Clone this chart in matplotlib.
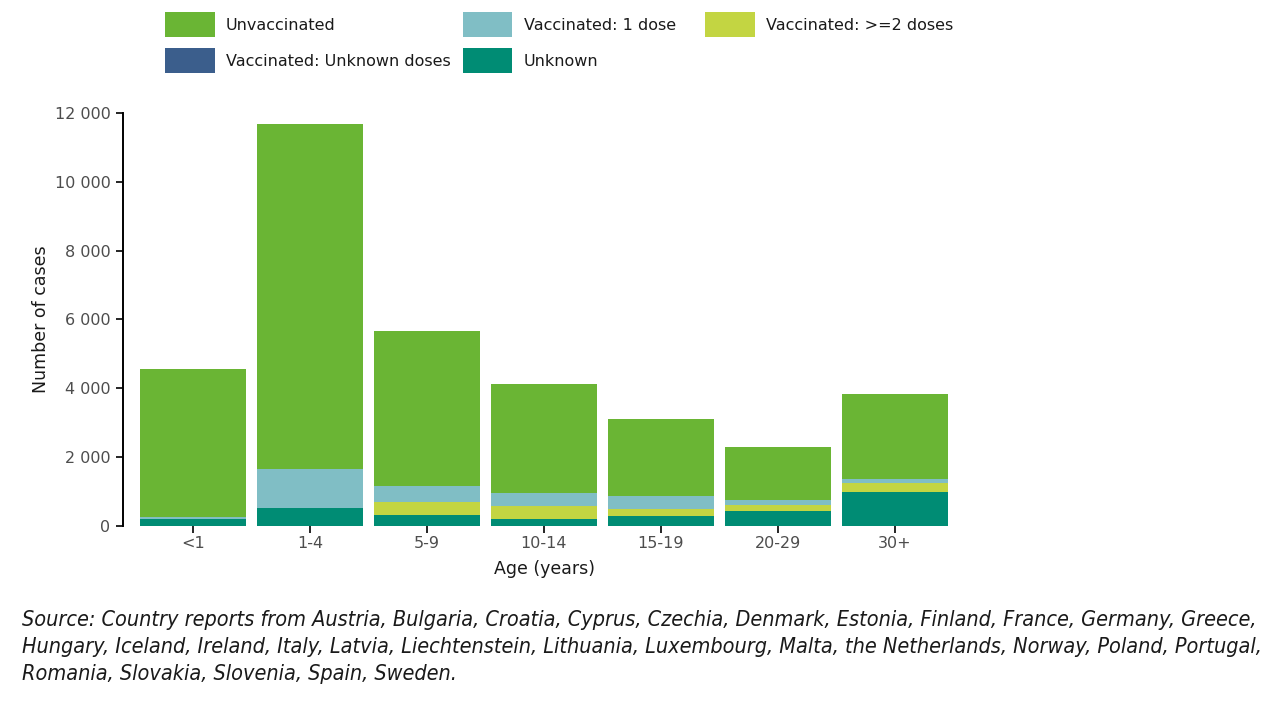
import numpy as np
import matplotlib
matplotlib.use("Agg")
import matplotlib.pyplot as plt
from matplotlib.ticker import FuncFormatter

# ---- DATA ----
age_groups = ["<1", "1-4", "5-9", "10-14", "15-19", "20-29", "30+"]
unknown = [195, 515, 311, 213, 291, 436, 997]
vacc_unknown_doses = [0, 0, 0, 0, 0, 0, 0]
vacc_2plus = [0, 0, 387, 368, 213, 165, 242]
vacc_1dose = [60, 1143, 465, 378, 378, 145, 136]
unvaccinated = [4310, 10030, 4506, 3169, 2228, 1551, 2462]

source_lines = [
    "Source: Country reports from Austria, Bulgaria, Croatia, Cyprus, Czechia, Denmark, Estonia, Finland, France, Germany, Greece,",
    "Hungary, Iceland, Ireland, Italy, Latvia, Liechtenstein, Lithuania, Luxembourg, Malta, the Netherlands, Norway, Poland, Portugal,",
    "Romania, Slovakia, Slovenia, Spain, Sweden.",
]

colors = {
    "Unvaccinated": "#6ab534",
    "Vaccinated: 1 dose": "#80bec5",
    "Vaccinated: >=2 doses": "#c3d542",
    "Vaccinated: Unknown doses": "#3b5e8c",
    "Unknown": "#008c74",
}

# ---- PLOT ----
fig = plt.figure(figsize=(12.8, 7.13), dpi=100)
ax = fig.add_axes([0.096, 0.2623, 0.658, 0.5792])

x = np.arange(len(age_groups))
width = 0.9
bottom = np.zeros(len(age_groups))
stack = [
    ("Unknown", unknown),
    ("Vaccinated: Unknown doses", vacc_unknown_doses),
    ("Vaccinated: >=2 doses", vacc_2plus),
    ("Vaccinated: 1 dose", vacc_1dose),
    ("Unvaccinated", unvaccinated),
]
bars = {}
for name, vals in stack:
    vals = np.array(vals, dtype=float)
    bars[name] = ax.bar(x, vals, width, bottom=bottom, color=colors[name],
                        label=name, linewidth=0)
    bottom += vals

ax.set_xlim(-0.6, len(age_groups) - 0.4)
ax.set_ylim(0, 12000)
ax.set_yticks(np.arange(0, 12001, 2000))
ax.yaxis.set_major_formatter(FuncFormatter(lambda v, p: f"{int(v):,}".replace(",", " ")))
ax.set_xticks(x)
ax.set_xticklabels(age_groups)

for s in ["top", "right", "bottom"]:
    ax.spines[s].set_visible(False)
ax.spines["left"].set_linewidth(1.4)
ax.tick_params(axis="both", length=5, width=1.2, colors="black",
               labelcolor="#4d4d4d", labelsize=11.5)
ax.tick_params(axis="y", pad=4)
ax.tick_params(axis="x", pad=2)

ax.set_ylabel("Number of cases", fontsize=12.5, color="#1a1a1a", labelpad=3)
ax.set_xlabel("Age (years)", fontsize=12.5, color="#1a1a1a", labelpad=7)

# legend: first two columns, then the third one on its own
leg_kw = dict(frameon=False, fontsize=11.5, handlelength=3.1, handleheight=2.0,
              handletextpad=0.7, columnspacing=0.75, labelspacing=0.7,
              labelcolor="#1a1a1a", loc="upper left", borderaxespad=0)
order = ["Unvaccinated", "Vaccinated: Unknown doses", "Vaccinated: 1 dose", "Unknown"]
leg1 = fig.legend([bars[k] for k in order], order, ncol=2,
                  bbox_to_anchor=(159 / 1280, 1 - 6 / 713), **leg_kw)
leg2 = fig.legend([bars["Vaccinated: >=2 doses"]], ["Vaccinated: >=2 doses"], ncol=1,
                  bbox_to_anchor=(699 / 1280, 1 - 6 / 713), **leg_kw)

for i, line in enumerate(source_lines):
    fig.text(0.017, 1 - (620 + i * 27) / 713, line, fontsize=15.5,
             style="italic", va="center", ha="left", color="#1a1a1a",
             fontstretch="condensed")

fig.savefig("out.png", dpi=100)
